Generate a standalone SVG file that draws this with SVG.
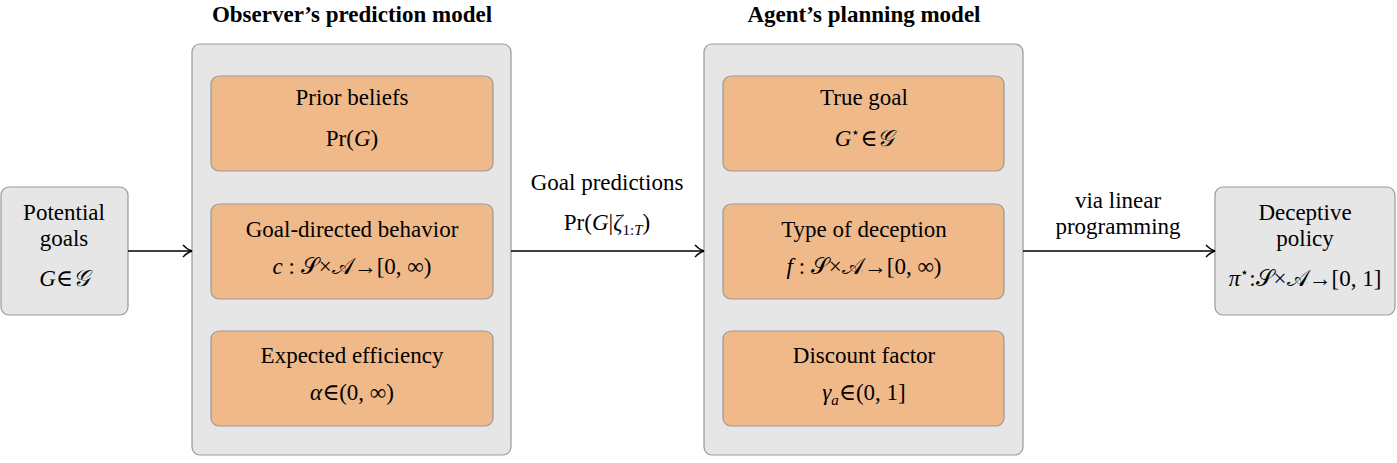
<svg xmlns="http://www.w3.org/2000/svg" width="1397" height="463" viewBox="0 0 1397 463">
<style>
text{font-family:"Liberation Serif","DejaVu Serif",serif;font-size:23px;fill:#000;text-anchor:middle}
.t{font-weight:bold;font-size:23px}
.g{fill:#e6e6e6;stroke:#999;stroke-width:1.2}
.o{fill:#f0b98a;stroke:#999;stroke-width:1.2}
.i{font-style:italic}
.c{stroke:#000;stroke-width:1.6;fill:none;marker-end:url(#a)}
</style>
<defs><marker id="a" markerWidth="12" markerHeight="14" refX="10" refY="7" orient="auto" markerUnits="userSpaceOnUse"><path d="M1,1 Q6,6 10,7 Q6,8 1,13" fill="none" stroke="#000" stroke-width="1.5"/></marker></defs>
<text class="t" x="352" y="22">Observer’s prediction model</text>
<text class="t" x="864" y="22">Agent’s planning model</text>
<g id="potential"><rect class="g" x="1" y="187" width="127" height="128" rx="8"/><text x="64" y="220">Potential</text><text x="64" y="246">goals</text><text x="64" y="286"><tspan class="i">G</tspan>∈<tspan class="i">𝒢</tspan></text></g>
<g id="observer"><rect class="g" x="192" y="44" width="319" height="411" rx="8"/>
<g id="prior"><rect class="o" x="211" y="76" width="282" height="95" rx="8"/><text x="352" y="105">Prior beliefs</text><text x="352" y="146">Pr(<tspan class="i">G</tspan>)</text></g>
<g id="gdb"><rect class="o" x="211" y="204" width="282" height="95" rx="8"/><text x="352" y="237">Goal-directed behavior</text><text x="352" y="274"><tspan class="i">c</tspan> : 𝒮×𝒜→[0, ∞)</text></g>
<g id="eff"><rect class="o" x="211" y="331" width="282" height="95" rx="8"/><text x="352" y="363">Expected efficiency</text><text x="352" y="400"><tspan class="i">α</tspan>∈(0, ∞)</text></g>
</g>
<g id="agent"><rect class="g" x="704" y="44" width="319" height="411" rx="8"/>
<g id="true"><rect class="o" x="723" y="76" width="281" height="95" rx="8"/><text x="864" y="105">True goal</text><text x="864" y="146"><tspan class="i">G</tspan><tspan font-size="14" dy="-9">⋆</tspan><tspan dy="9">∈</tspan><tspan class="i">𝒢</tspan></text></g>
<g id="type"><rect class="o" x="723" y="204" width="281" height="95" rx="8"/><text x="864" y="237">Type of deception</text><text x="864" y="274"><tspan class="i">f</tspan> : 𝒮×𝒜→[0, ∞)</text></g>
<g id="disc"><rect class="o" x="723" y="331" width="281" height="95" rx="8"/><text x="864" y="363">Discount factor</text><text x="864" y="400"><tspan class="i">γ</tspan><tspan class="i" font-size="15" dy="5">a</tspan><tspan dy="-5">∈(0, 1]</tspan></text></g>
</g>
<g id="policy"><rect class="g" x="1215" y="187" width="180" height="128" rx="8"/><text x="1305" y="220">Deceptive</text><text x="1305" y="246">policy</text><text x="1305" y="286"><tspan class="i">π</tspan><tspan font-size="14" dy="-9">⋆</tspan><tspan dy="9">:𝒮×𝒜→[0, 1]</tspan></text></g>
<g id="connectors">
<path class="c" d="M128,251H192"/>
<path class="c" d="M511,251H704"/>
<path class="c" d="M1023,251H1215"/>
<text x="607" y="190">Goal predictions</text>
<text x="607" y="230">Pr(<tspan class="i">G</tspan>|<tspan class="i">ζ</tspan><tspan font-size="15" dy="5">1:<tspan class="i">T</tspan></tspan><tspan dy="-5">)</tspan></text>
<text x="1118" y="208">via linear</text>
<text x="1118" y="234">programming</text>
</g>
</svg>
